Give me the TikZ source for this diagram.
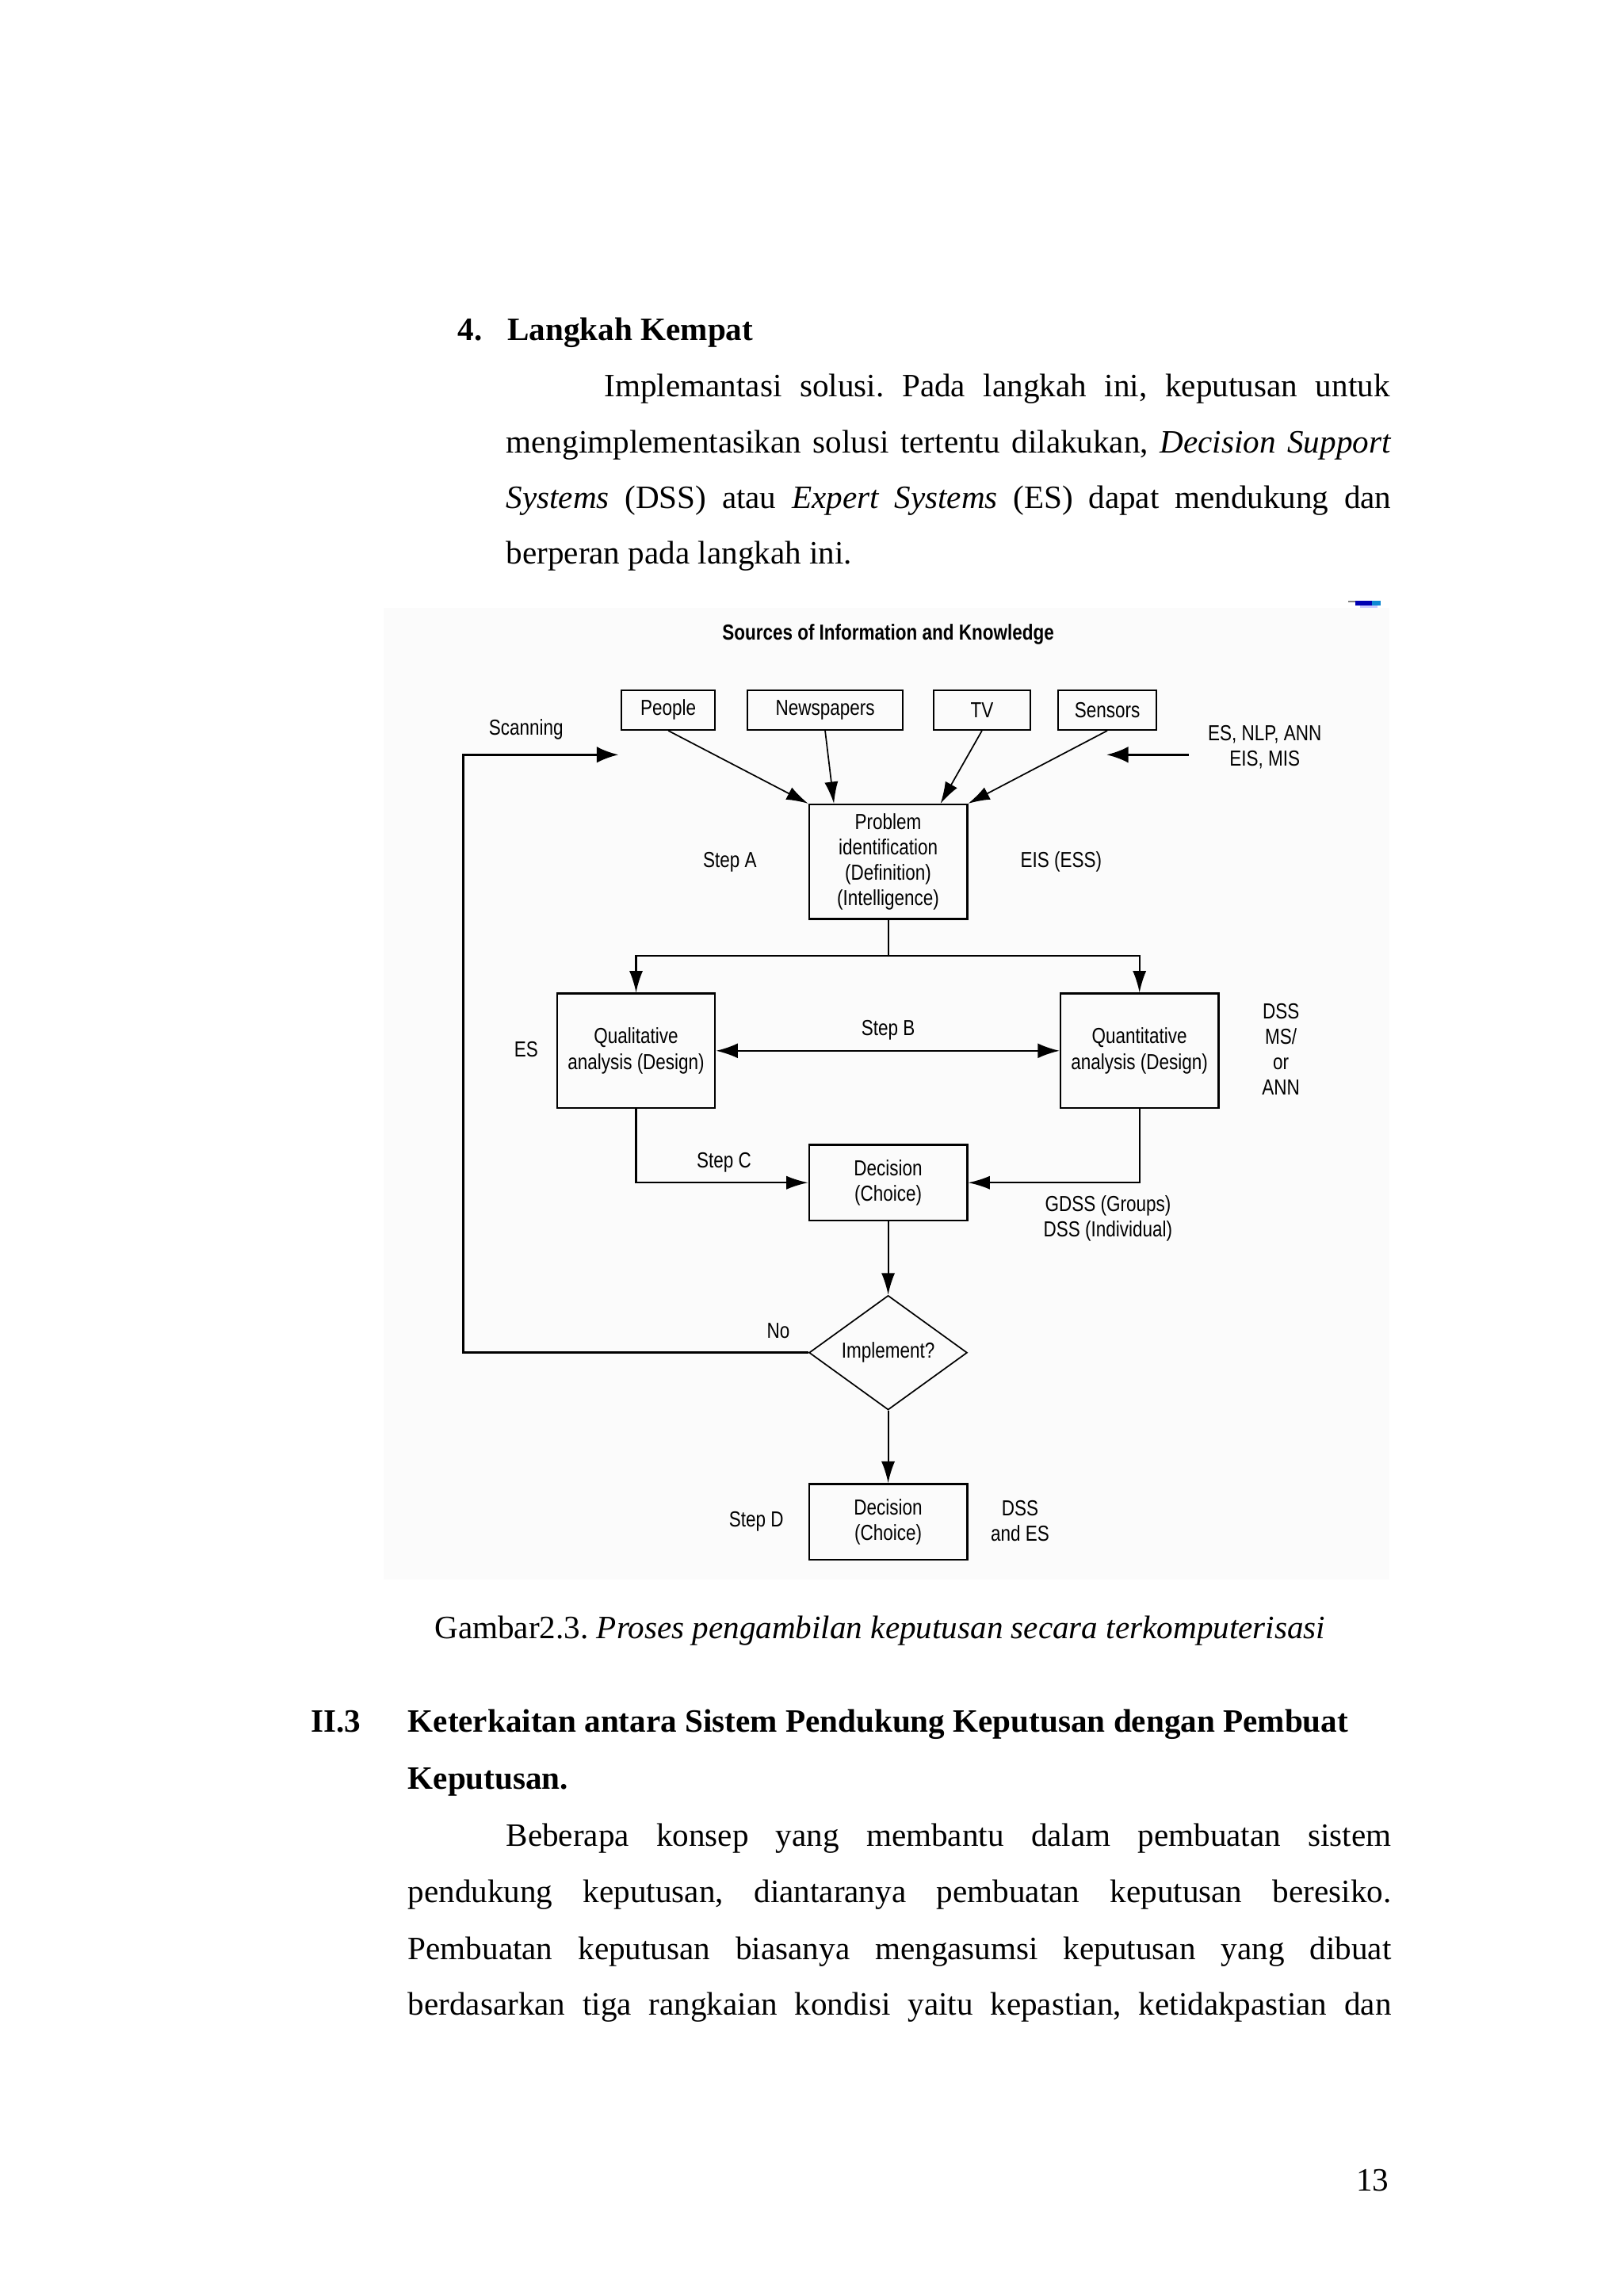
\documentclass[tikz,border=0pt]{standalone}
\usepackage{fontspec}
\setmainfont{Liberation Serif}
\newfontfamily\diagfont[FakeStretch=0.82]{Liberation Sans}
\usetikzlibrary{arrows.meta,shapes.geometric}
\frenchspacing

\begin{document}
\begin{tikzpicture}[x=0.18957mm,y=-0.18957mm,
    box/.style={draw,line width=0.7pt,minimum width=20.45mm,minimum height=14.8mm,align=center,inner sep=1pt,font=\diagfont\fontsize{8}{9.4}\selectfont},
    src/.style={box,minimum height=5.1mm},
    lbl/.style={align=center,inner sep=0pt,font=\diagfont\fontsize{8}{9.4}\selectfont},
    body/.style={anchor=base west,inner sep=0pt,font=\fontsize{12}{14}\selectfont},
    arr/.style={-{Latex[length=8pt,width=5pt]},line width=0.6pt}]
    \useasboundingbox (0,0) rectangle (1107.8,1566.7);
    \fill[white] (0,0) rectangle (1107.8,1566.7);

    \node[body,font=\bfseries\fontsize{12}{14}\selectfont] (num) at (312,232.5) {4.};
    \node[body,font=\bfseries\fontsize{12}{14}\selectfont] (head) at (346,232.5) {Langkah Kempat};
    \node[body] (p1a) at (412,270.5) {\makebox[101.6mm][s]{Implemantasi solusi. Pada langkah ini, keputusan untuk}};
    \node[body] (p1b) at (345,309) {\makebox[114.5mm][s]{mengimplementasikan solusi tertentu dilakukan, \textit{Decision Support}}};
    \node[body] (p1c) at (345,347) {\makebox[114.5mm][s]{\textit{Systems} (DSS) atau \textit{Expert Systems} (ES) dapat mendukung dan}};
    \node[body] (p1d) at (345,385) {berperan pada langkah ini.};

    \fill[black!1.5] (262,415) rectangle (948,1078);
    \fill[blue!70!black] (925,410) rectangle (936,413);
    \fill[cyan!70!blue] (936,410) rectangle (942,413);
    \fill[blue!20] (928,413) rectangle (940,415);
    \draw[gray,line width=0.4pt] (920,410.5) -- (925,410.5);

    \node[lbl,font=\diagfont\bfseries\fontsize{8}{9.4}\selectfont] (title) at (606,433) {Sources of Information and Knowledge};
    \node[src,minimum width=12.1mm] (people) at (456,484.5) {People};
    \node[src,minimum width=20.05mm] (newspapers) at (563,484.5) {Newspapers};
    \node[src,minimum width=12.5mm] (tv) at (670,484.5) {TV};
    \node[src,minimum width=12.7mm] (sensors) at (755.5,484.5) {Sensors};
    \node[box] (problem) at (606,588) {Problem\\identification\\(Definition)\\(Intelligence)};
    \node[box] (quali) at (434,717) {Qualitative\\analysis (Design)};
    \node[box] (quanti) at (777.5,717) {Quantitative\\analysis (Design)};
    \node[box,minimum height=9.8mm] (decision) at (606,807) {Decision\\(Choice)};
    \node[draw,diamond,line width=0.5pt,minimum width=20.45mm,minimum height=14.8mm,inner sep=0pt,font=\diagfont\fontsize{8}{9.4}\selectfont] (implement) at (606,923) {Implement?};
    \node[box,minimum height=9.8mm] (final) at (606,1038.5) {Decision\\(Choice)};

    \node[lbl] (scanlbl) at (359,498) {Scanning};
    \node[lbl] (tools) at (863,510) {ES, NLP, ANN\\EIS, MIS};
    \node[lbl] (stepa) at (498,588) {Step A};
    \node[lbl] (eis) at (724,588) {EIS (ESS)};
    \node[lbl] (es) at (359,716) {ES};
    \node[lbl] (stepb) at (606,703) {Step B};
    \node[lbl] (dssms) at (874,716) {DSS\\MS/\\or\\ANN};
    \node[lbl] (stepc) at (494,793) {Step C};
    \node[lbl] (gdss) at (756,831.5) {GDSS (Groups)\\DSS (Individual)};
    \node[lbl] (no) at (531,908) {No};
    \node[lbl] (stepd) at (516,1038) {Step D};
    \node[lbl] (dsses) at (696,1038) {DSS\\and ES};

    \coordinate (scan) at (422,515);
    \coordinate (loop) at (316,515);
    \coordinate (feed) at (811,515);
    \coordinate (feedtip) at (755,515);
    \coordinate (split) at (606,652);

    \draw[arr,line width=0.5pt] (people.south) -- (problem.north west);
    \draw[arr,line width=0.5pt] (newspapers.south) -- (problem.133);
    \draw[arr,line width=0.5pt] (tv.south) -- (problem.48);
    \draw[arr,line width=0.5pt] (sensors.south) -- (problem.north east);
    \draw[-{Latex[length=8pt,width=6pt]},line width=0.9pt] (feed) -- (feedtip);
    \draw[line width=0.6pt] (problem.south) -- (split);
    \draw[arr] (split) -| (quali.north);
    \draw[arr] (split) -| (quanti.north);
    \draw[arr,{Latex[length=8pt,width=5.5pt]}-{Latex[length=8pt,width=5.5pt]}] (quali.east) -- (quanti.west);
    \draw[arr] (quali.south) |- (decision.west);
    \draw[arr] (quanti.south) |- (decision.east);
    \draw[arr] (decision.south) -- (implement.north);
    \draw[arr] (implement.south) -- (final.north);
    \draw[-{Latex[length=8pt,width=6pt]},line width=0.9pt] (implement.west) -| (loop) -- (scan);

    \node[anchor=base,inner sep=0pt,font=\fontsize{12}{14}\selectfont] (caption) at (600.5,1118) {Gambar2.3. \textit{Proses pengambilan keputusan secara terkomputerisasi}};

    \node[body,font=\bfseries\fontsize{12}{14}\selectfont] (secnum) at (212,1182) {II.3};
    \node[body,font=\bfseries\fontsize{12}{14}\selectfont] (sectitle) at (278,1182) {Keterkaitan antara Sistem Pendukung Keputusan dengan Pembuat};
    \node[body,font=\bfseries\fontsize{12}{14}\selectfont] (sectitleb) at (278,1221) {Keputusan.};
    \node[body] (p2a) at (345,1260) {\makebox[114.5mm][s]{Beberapa konsep yang membantu dalam pembuatan sistem}};
    \node[body] (p2b) at (278,1298) {\makebox[127.2mm][s]{pendukung keputusan, diantaranya pembuatan keputusan beresiko.}};
    \node[body] (p2c) at (278,1337) {\makebox[127.2mm][s]{Pembuatan keputusan biasanya mengasumsi keputusan yang dibuat}};
    \node[body] (p2d) at (278,1375) {\makebox[127.2mm][s]{berdasarkan tiga rangkaian kondisi yaitu kepastian, ketidakpastian dan}};

    \node[anchor=base east,inner sep=0pt,font=\fontsize{12}{14}\selectfont] (page) at (948,1495) {13};
\end{tikzpicture}
\end{document}
